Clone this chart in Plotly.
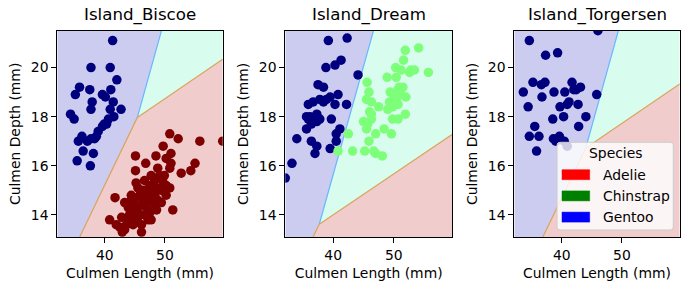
import plotly.graph_objects as go

# ---------------- data ----------------
ISLANDS = ["Island_Biscoe", "Island_Dream", "Island_Torgersen"]
LEGEND_LABELS = ["Adelie", "Chinstrap", "Gentoo"]

# Island_Biscoe
biscoe_blue_len = [41.3, 37.7, 40.9, 42.0, 35.8, 37.5, 41.0, 35.1, 39.6, 40.1, 37.9, 41.4,
                   37.7, 42.7, 34.3, 34.9, 41.5, 40.6, 40.3, 39.6, 38.9, 38.6, 36.2, 37.7,
                   35.6, 37.1, 36.4, 38.1, 35.4, 37.6, 40.9, 39.9, 38.3]
biscoe_blue_dep = [21.1, 20.0, 20.0, 19.5, 19.2, 19.1, 19.1, 18.9, 18.9, 18.8, 18.6, 18.6,
                   18.3, 18.3, 18.1, 17.9, 18.0, 17.9, 17.7, 17.6, 17.4, 17.2, 17.2, 17.1,
                   17.0, 17.0, 16.6, 16.5, 16.2, 16.0, 18.3, 17.7, 17.1]
biscoe_red_len = [50.8, 52.2, 55.8, 59.6, 49.7, 51.0, 45.1, 48.5, 46.8, 50.2, 55.0, 52.7,
                  54.3, 45.1, 48.8, 50.8, 47.7, 46.6, 49.6, 50.2, 50.8, 45.5, 48.3, 44.4,
                  41.7, 46.1, 48.8, 50.2, 43.3, 45.0, 46.9, 48.6, 51.3, 45.5, 44.1, 47.7,
                  42.8, 40.8, 41.9, 43.6, 46.1, 47.2, 43.3, 46.1, 49.4, 47.2, 45.2, 47.5,
                  46.4, 44.4, 42.5, 45.0, 48.3, 49.1, 51.0, 45.8, 46.6, 47.5, 48.3, 46.1,
                  45.2, 46.9, 47.7, 44.4, 43.9, 45.5, 46.6, 44.7, 44.1, 47.5, 49.4, 49.9,
                  48.3, 49.1, 42.9]
biscoe_red_dep = [17.3, 17.1, 17.0, 17.0, 16.8, 16.5, 16.4, 16.4, 16.1, 16.3, 16.1, 15.7,
                  15.8, 15.8, 15.9, 15.9, 15.6, 15.4, 15.4, 15.2, 15.1, 15.1, 15.1, 14.8,
                  14.7, 14.7, 14.6, 14.8, 14.5, 14.4, 14.3, 14.2, 14.2, 14.1, 14.0, 13.8,
                  13.9, 13.8, 13.6, 13.6, 13.6, 13.8, 13.4, 13.3, 14.5, 14.8, 15.3, 15.2,
                  15.0, 14.2, 13.5, 13.8, 14.8, 15.6, 16.1, 14.8, 14.6, 14.6, 14.4, 14.4,
                  14.7, 15.0, 15.0, 14.6, 14.3, 13.9, 14.0, 13.6, 13.8, 14.1, 15.0, 15.6,
                  15.4, 15.1, 13.3]

# Island_Dream
dream_blue_len = [39.2, 42.3, 38.8, 40.3, 41.3, 44.1, 37.5, 38.4, 40.8, 42.2, 40.3, 35.9,
                  36.7, 37.8, 39.5, 38.9, 35.6, 36.2, 37.3, 37.8, 39.7, 37.3, 35.6, 41.1,
                  40.5, 40.5, 34.0, 36.4, 37.3, 39.5, 37.0, 33.2, 32.1, 35.9, 36.4, 38.4]
dream_blue_dep = [21.1, 21.2, 20.0, 20.1, 20.3, 19.7, 19.3, 19.2, 18.9, 18.5, 18.5, 18.5,
                  18.6, 18.7, 18.8, 18.7, 18.0, 18.0, 18.1, 17.9, 17.9, 17.8, 17.5, 17.5,
                  17.3, 17.0, 17.1, 17.0, 16.8, 16.7, 16.5, 16.1, 15.5, 17.9, 17.7, 18.6]
dream_green_len = [54.1, 51.9, 51.6, 55.7, 53.4, 52.8, 51.2, 50.3, 48.9, 50.4, 52.6, 45.6,
                   49.4, 50.7, 51.5, 52.0, 45.9, 45.5, 46.3, 50.4, 49.0, 49.8, 47.5, 50.7,
                   46.0, 50.7, 49.8, 51.9, 45.0, 46.3, 45.5, 47.0, 48.4, 49.6, 42.5, 45.9,
                   40.8, 43.2, 45.2, 46.7, 47.0, 48.1, 50.9, 51.2, 50.1, 49.3, 45.7, 46.3]
dream_green_dep = [20.8, 20.7, 20.3, 19.8, 19.9, 19.9, 19.9, 20.0, 19.6, 19.6, 19.8, 19.4,
                   19.0, 19.1, 19.2, 18.8, 19.0, 18.7, 18.6, 18.7, 18.3, 18.4, 18.4, 18.5,
                   18.2, 17.9, 17.9, 18.1, 17.8, 17.9, 17.5, 17.3, 17.5, 17.3, 17.3, 17.0,
                   16.6, 16.6, 16.6, 16.6, 16.5, 16.4, 19.2, 18.9, 18.8, 18.6, 17.7, 18.1]

# Island_Torgersen
torg_blue_len = [34.6, 46.0, 37.3, 39.3, 35.2, 36.6, 37.2, 41.7, 33.6, 38.7, 40.5, 42.0,
                 43.1, 36.7, 41.2, 42.7, 45.8, 34.4, 39.7, 38.5, 40.3, 44.0, 35.5, 42.8,
                 34.6, 36.2, 38.6, 39.6, 39.0, 40.4, 40.9, 35.8, 40.9, 42.4]
torg_blue_dep = [21.1, 21.5, 20.5, 20.6, 19.4, 19.3, 19.4, 19.4, 19.0, 19.0, 19.0, 19.1,
                 19.2, 18.8, 18.6, 18.5, 18.9, 18.4, 18.4, 17.9, 18.0, 18.0, 17.6, 17.6,
                 17.2, 17.2, 17.1, 17.2, 17.0, 17.0, 16.8, 16.6, 18.5, 19.1]

POINTS = {
    "Island_Biscoe": [(biscoe_blue_len, biscoe_blue_dep, 0), (biscoe_red_len, biscoe_red_dep, 2)],
    "Island_Dream": [(dream_blue_len, dream_blue_dep, 0), (dream_green_len, dream_green_dep, 1)],
    "Island_Torgersen": [(torg_blue_len, torg_blue_dep, 0)],
}

# linear decision functions (class order: blue, green, red), shared slopes, per-island intercepts
COEF_LEN = [0.0, 0.4209, 0.508]
COEF_DEP = [0.0, -0.4783, -1.0]
GREEN_INTERCEPT = [-10.518, -9.354, -10.513]
RED_INTERCEPT = [-5.098, -5.532, -5.618]

X_RANGE = [32.1, 59.6]
Y_RANGE = [13.1, 21.5]
X_TICKS = [40, 50]
Y_TICKS = [14, 16, 18, 20]

# ---------------- styles ----------------
FONT = "DejaVu Sans"
POINT_COLORS = ["#00007f", "#7dff7a", "#7f0000"]
REGION_COLORS = ["#ccccf1", "#d8fdee", "#f1cccc"]
EDGE_COLORS = {(0, 1): "#66b5ff", (0, 2): "#d9a45c", (1, 2): "#d9a45c"}
LEGEND_COLORS = ["#ff0000", "#008000", "#0000ff"]

W, H = 690, 290
X_DOMAINS_PX = [(57.3, 222.7), (285.3, 452.0), (514.3, 679.7)]
Y_TOP_PX, Y_BOT_PX = 30.7, 237.0


def px_x(p):
    return p / W


def px_y(p):
    return 1 - p / H


def clip(poly, a, b, c):
    out = []
    n = len(poly)
    for i in range(n):
        p, q = poly[i], poly[(i + 1) % n]
        fp = a * p[0] + b * p[1] + c
        fq = a * q[0] + b * q[1] + c
        if fp >= 0:
            out.append(p)
        if (fp >= 0) != (fq >= 0):
            t = fp / (fp - fq)
            out.append((p[0] + t * (q[0] - p[0]), p[1] + t * (q[1] - p[1])))
    return out


fig = go.Figure()
layout = {}
annotations = []

for idx, island in enumerate(ISLANDS):
    sfx = "" if idx == 0 else str(idx + 1)
    xa, ya = "x" + sfx, "y" + sfx
    icpt = [0.0, GREEN_INTERCEPT[idx], RED_INTERCEPT[idx]]
    rect = [(X_RANGE[0], Y_RANGE[0]), (X_RANGE[1], Y_RANGE[0]),
            (X_RANGE[1], Y_RANGE[1]), (X_RANGE[0], Y_RANGE[1])]
    edges = []
    for k in range(3):
        poly = rect
        for j in range(3):
            if j == k:
                continue
            poly = clip(poly, COEF_LEN[k] - COEF_LEN[j], COEF_DEP[k] - COEF_DEP[j], icpt[k] - icpt[j])
            if not poly:
                break
        if len(poly) < 3:
            continue
        fig.add_trace(go.Scatter(
            x=[p[0] for p in poly] + [poly[0][0]], y=[p[1] for p in poly] + [poly[0][1]],
            fill="toself", fillcolor=REGION_COLORS[k], mode="lines", line=dict(width=0),
            hoverinfo="skip", showlegend=False, xaxis=xa, yaxis=ya))
        n = len(poly)
        for i in range(n):
            p, q = poly[i], poly[(i + 1) % n]
            for j in range(3):
                if j <= k:
                    continue
                a, b, c = COEF_LEN[k] - COEF_LEN[j], COEF_DEP[k] - COEF_DEP[j], icpt[k] - icpt[j]
                if abs(a * p[0] + b * p[1] + c) < 1e-7 and abs(a * q[0] + b * q[1] + c) < 1e-7:
                    edges.append((p, q, (k, j)))
    for p, q, pair in edges:
        fig.add_trace(go.Scatter(
            x=[p[0], q[0]], y=[p[1], q[1]], mode="lines",
            line=dict(color=EDGE_COLORS[pair], width=1.2), hoverinfo="skip",
            showlegend=False, xaxis=xa, yaxis=ya))
    for lens, deps, cls in POINTS[island]:
        fig.add_trace(go.Scatter(
            x=lens, y=deps, mode="markers",
            marker=dict(color=POINT_COLORS[cls], size=9.5, line=dict(width=0)),
            showlegend=False, xaxis=xa, yaxis=ya))

    x0, x1 = X_DOMAINS_PX[idx]
    layout["xaxis" + sfx] = dict(
        domain=[px_x(x0), px_x(x1)], range=X_RANGE, anchor=ya, tickvals=X_TICKS,
        showgrid=False, zeroline=False, showline=True, mirror=True, linecolor="black",
        linewidth=1, ticks="outside", ticklen=5, tickwidth=1, tickcolor="black",
        tickfont=dict(family=FONT, size=13.9, color="black"),
        title=dict(text="Culmen Length (mm)", font=dict(family=FONT, size=13.9, color="black"), standoff=6))
    layout["yaxis" + sfx] = dict(
        domain=[px_y(Y_BOT_PX), px_y(Y_TOP_PX)], range=Y_RANGE, anchor=xa, tickvals=Y_TICKS,
        showgrid=False, zeroline=False, showline=True, mirror=True, linecolor="black",
        linewidth=1, ticks="outside", ticklen=5, tickwidth=1, tickcolor="black",
        tickfont=dict(family=FONT, size=13.9, color="black"),
        title=dict(text="Culmen Depth (mm)", font=dict(family=FONT, size=13.9, color="black"), standoff=6))
    annotations.append(dict(
        text=island, xref="paper", yref="paper", x=px_x((x0 + x1) / 2), y=px_y(Y_TOP_PX),
        xanchor="center", yanchor="bottom", yshift=4, showarrow=False,
        font=dict(family=FONT, size=16.67, color="black")))

# ---------------- legend (drawn by hand to match the matplotlib look) ----------------
lx0, ly0, lx1, ly1 = 557, 142.3, 673.3, 230
r = 3
rx, ry = r / W, r / H
X0, X1, Y0, Y1 = px_x(lx0), px_x(lx1), px_y(ly1), px_y(ly0)
path = (f"M{X0 + rx},{Y0} L{X1 - rx},{Y0} Q{X1},{Y0} {X1},{Y0 + ry} L{X1},{Y1 - ry} "
        f"Q{X1},{Y1} {X1 - rx},{Y1} L{X0 + rx},{Y1} Q{X0},{Y1} {X0},{Y1 - ry} "
        f"L{X0},{Y0 + ry} Q{X0},{Y0} {X0 + rx},{Y0} Z")
shapes = [dict(type="path", xref="paper", yref="paper", path=path,
               fillcolor="rgba(255,255,255,0.8)", line=dict(color="#cccccc", width=1), layer="above")]
annotations.append(dict(text="Species", xref="paper", yref="paper", x=px_x(615.3), y=px_y(153),
                        xanchor="center", yanchor="middle", showarrow=False,
                        font=dict(family=FONT, size=13.9, color="black")))
for i, (lab, col) in enumerate(zip(LEGEND_LABELS, LEGEND_COLORS)):
    cy = 174.7 + i * 21.2
    shapes.append(dict(type="rect", xref="paper", yref="paper", x0=px_x(562), x1=px_x(589.7),
                       y0=px_y(cy + 5), y1=px_y(cy - 5), fillcolor=col, line=dict(color=col, width=0.5),
                       layer="above"))
    annotations.append(dict(text=lab, xref="paper", yref="paper", x=px_x(601.3), y=px_y(cy),
                            xanchor="left", yanchor="middle", showarrow=False,
                            font=dict(family=FONT, size=13.9, color="black")))

fig.update_layout(
    width=W, height=H, margin=dict(l=0, r=0, t=0, b=0),
    paper_bgcolor="white", plot_bgcolor="white", showlegend=False,
    annotations=annotations, shapes=shapes, **layout)

fig.write_html("out.html")
